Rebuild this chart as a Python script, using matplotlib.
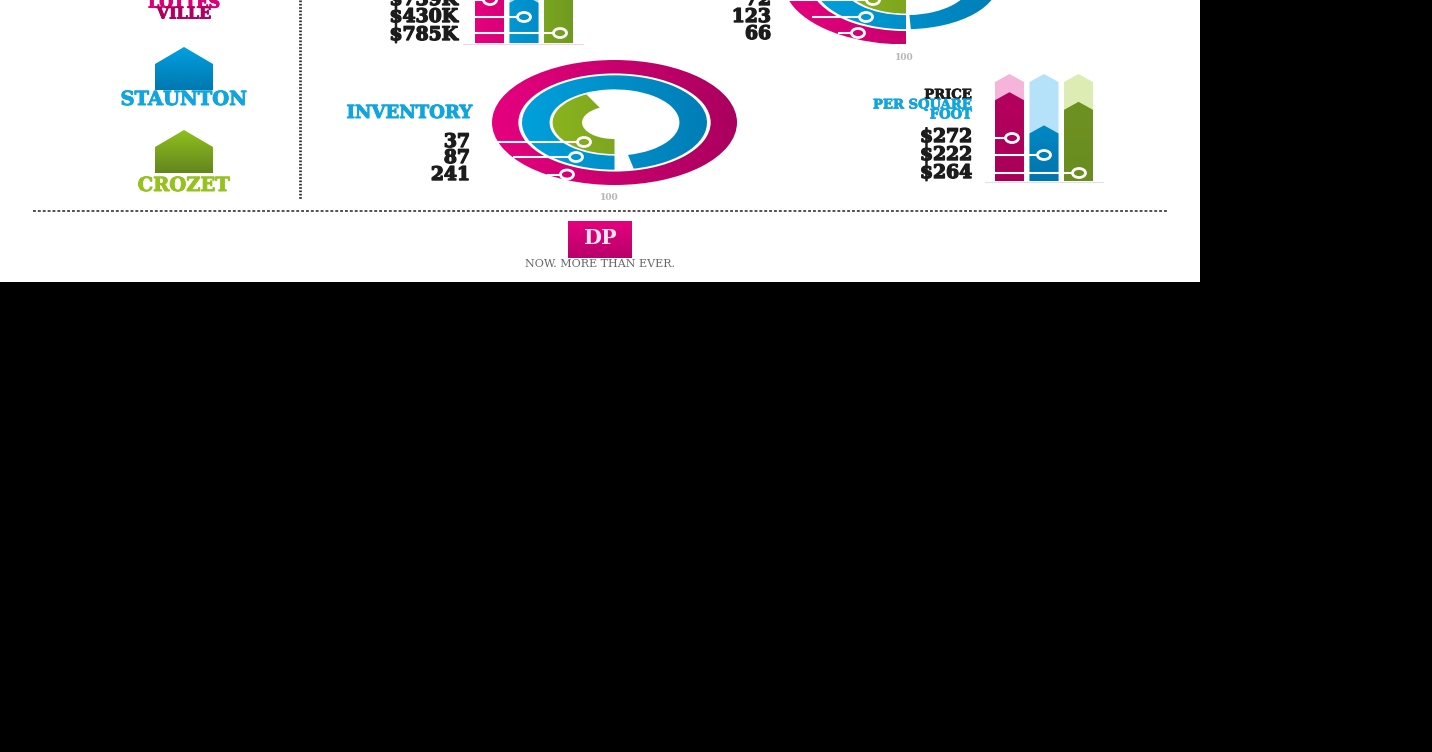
import numpy as np
import matplotlib
matplotlib.use("Agg")
import matplotlib.pyplot as plt
import matplotlib.patheffects as pe
from matplotlib.colors import LinearSegmentedColormap
from matplotlib.patches import Wedge, Polygon, Ellipse, Rectangle

W, H = 1432, 752

# top left chart (bar heights in percent of full column)
sale_labels = ["$739K", "$430K", "$785K"]
sale_heights = [82, 45, 88]
# top right ring chart
top_ring_labels = ["72", "123", "66"]
top_ring_sweeps = [288, 357, 264]
# inventory rings, green / blue / pink, sweep in degrees from the bottom
inventory_labels = ["37", "87", "241"]
inventory_sweeps = [153, 348, 360]
# price per square foot
price_labels = ["$272", "$222", "$264"]
price_heights = [83, 52, 74]
towns = ["STAUNTON", "CROZET"]

PINK = "#d9007a"
BLUE = "#12a5dc"
GREEN = "#96c11f"
DARK = "#1c1c1c"
ring_grads = [("#96c11f", "#668a1e"), ("#00a6e2", "#0078b0"), ("#e6007e", "#aa005e")]
ring_radii = [(0.505, 0.265), (0.755, 0.53), (1.0, 0.785)]
sale_grads = [("#e6007e", "#b8006a"), ("#00a4e0", "#0080ba"), ("#96c11f", "#6f9a20")]
price_grads = [("#b8005f", "#a80058"), ("#009cdc", "#0074ac"), ("#6f9422", "#6a8c20")]
pale = ["#f5b5da", "#b5e2f8", "#dcecb2"]

plt.rcParams["font.family"] = ["DejaVu Serif"]
plt.rcParams["font.weight"] = "bold"

fig = plt.figure(figsize=(W / 100, H / 100), dpi=100, facecolor="black")


def px_axes(x0, y0, x1, y1, z):
    ax = fig.add_axes([x0 / W, 1 - y1 / H, (x1 - x0) / W, (y1 - y0) / H], zorder=z)
    ax.axis("off")
    return ax


def grad_patch(ax, patch, c0, c1, horizontal=True):
    xl, yl = ax.get_xlim(), ax.get_ylim()
    g = np.linspace(0, 1, 128)
    g = g[None, :] if horizontal else g[:, None]
    cmap = LinearSegmentedColormap.from_list("g", [c0, c1])
    im = ax.imshow(g, extent=[xl[0], xl[1], yl[0], yl[1]], aspect="auto", cmap=cmap, origin="upper", zorder=2)
    ax.add_patch(patch)
    patch.set_facecolor("none")
    patch.set_edgecolor("none")
    im.set_clip_path(patch)
    ax.set_xlim(xl)
    ax.set_ylim(yl)


def draw_rings(cx, cy, sweeps):
    ax = px_axes(cx - 122.5, cy - 62.5, cx + 122.5, cy + 62.5, 1)
    ax.set_xlim(-1, 1)
    ax.set_ylim(-1, 1)
    for sweep, (outer, inner), (c0, c1) in reversed(list(zip(sweeps, ring_radii, ring_grads))):
        w = Wedge((0, 0), outer, 270 - sweep, 270, width=outer - inner)
        grad_patch(ax, w, c0, c1)


def house(x, top, half, shoulder):
    return Polygon([(x - half, 0), (x - half, top - shoulder), (x, top),
                    (x + half, top - shoulder), (x + half, 0)], closed=True)


def draw_bars(x0, bottom, heights, grads, horizontal):
    # columns sit 34.5 px apart and the full column is 107 px tall
    ax = px_axes(x0, bottom - 107, x0 + 98, bottom, 1)
    ax.set_xlim(-0.42, 2.42)
    ax.set_ylim(0, 100)
    for i, h in enumerate(heights):
        ax.add_patch(Polygon(house(i, 100, 0.42, 7.5).get_xy(), closed=True, fc=pale[i], ec="none"))
    for i, h in enumerate(heights):
        grad_patch(ax, house(i, h, 0.42, 7.5), grads[i][0], grads[i][1], horizontal)


def heavy(x, y, s, color, size, ha="center", stroke=0.7):
    t = ov.text(x, y, s, color=color, fontsize=size, ha=ha, va="center")
    t.set_path_effects([pe.withStroke(linewidth=stroke, foreground=color)])
    return t


bg = px_axes(0, 0, W, H, 0)
bg.set_xlim(0, W)
bg.set_ylim(H, 0)
bg.add_patch(Rectangle((0, 0), 1200, 282, fc="white", ec="none"))

draw_bars(475, 43, sale_heights, sale_grads, True)
draw_rings(906, -18, top_ring_sweeps)
draw_rings(614.5, 122.5, inventory_sweeps)
draw_bars(995, 181, price_heights, price_grads, False)

ov = px_axes(0, 0, W, H, 2)
ov.set_xlim(0, W)
ov.set_ylim(H, 0)

# town houses
for y_tip, c0, c1 in [(47, "#00a0e0", "#0078b0"), (130, "#8fc01c", "#63861e")]:
    hs = Polygon([(155, y_tip + 43), (155, y_tip + 17), (184, y_tip), (213, y_tip + 17), (213, y_tip + 43)],
                 closed=True, fc="none", ec="none")
    ov.add_patch(hs)
    im = ov.imshow(np.linspace(0, 1, 64)[:, None], extent=[155, 213, y_tip + 43, y_tip], aspect="auto",
                   cmap=LinearSegmentedColormap.from_list("h", [c0, c1]), origin="upper")
    im.set_clip_path(hs)
ov.set_xlim(0, W)
ov.set_ylim(H, 0)

heavy(184, 3, "LOTTES", "#d9007a", 11.5)
heavy(184, 14, "VILLE", "#b0005f", 11.5)
heavy(184, 100, towns[0], BLUE, 14)
heavy(184, 186, towns[1], GREEN, 14)

ov.plot([300, 300], [0, 200], color="#333333", lw=2, ls=(0, (0.6, 0.6)))
ov.plot([33, 1167], [210.5, 210.5], color="#444444", lw=1.3, ls=(0, (1.6, 1.1)))

# value labels
for ys, labels, right in [([0, 17, 35], sale_labels, 458), ([0, 17, 34], top_ring_labels, 771),
                          ([142, 158, 175], inventory_labels, 470), ([137, 155, 173], price_labels, 972)]:
    for y, s in zip(ys, labels):
        heavy(right, y, s, DARK, 13.5, ha="right", stroke=1.0)

heavy(472, 113, "INVENTORY", BLUE, 13, ha="right")
heavy(972, 95, "PRICE", DARK, 9.5, ha="right", stroke=0.5)
heavy(972, 105, "PER SQUARE", BLUE, 9.5, ha="right", stroke=0.5)
heavy(972, 115, "FOOT", BLUE, 9.5, ha="right", stroke=0.5)
for x, y in [(609, 197), (904, 57)]:
    ov.text(x, y, "100", color="#b5b5b5", fontsize=6.5, ha="center", va="center")

# connector lines with ring knobs: start x, knob x, y
knobs = [(475, 490, 0), (475, 524, 17), (475, 560, 33),
         (770, 873, 0), (812, 866, 17), (838, 858, 33),
         (497, 584, 142), (513, 576, 157), (547, 567, 174.5),
         (995, 1012, 138), (995, 1044, 155), (995, 1079, 173)]
for x0, xk, y in knobs:
    ov.plot([x0, xk - 6], [y, y], color="white", lw=1.5, solid_capstyle="butt")
    ov.add_patch(Ellipse((xk, y), 13, 9, fc="none", ec="white", lw=2))

ov.plot([463, 583], [44, 44], color="#f3d5e6", lw=0.8)
ov.plot([985, 1103], [181.5, 181.5], color="#e2e2e2", lw=0.8)

# logo
logo = Rectangle((568, 221), 64, 37, fc="none", ec="none")
ov.add_patch(logo)
im = ov.imshow(np.linspace(0, 1, 64)[:, None], extent=[568, 632, 258, 221], aspect="auto",
               cmap=LinearSegmentedColormap.from_list("l", ["#e6007e", "#b8006a"]), origin="upper")
im.set_clip_path(logo)
ov.set_xlim(0, W)
ov.set_ylim(H, 0)
ov.text(600, 238, "DP", color="#fbe3ef", fontsize=15, ha="center", va="center")
ov.text(600, 264, "NOW. MORE THAN EVER.", color="#666666", fontsize=8, fontweight="normal", ha="center", va="center")

fig.savefig("out.png", dpi=100, facecolor="black")
